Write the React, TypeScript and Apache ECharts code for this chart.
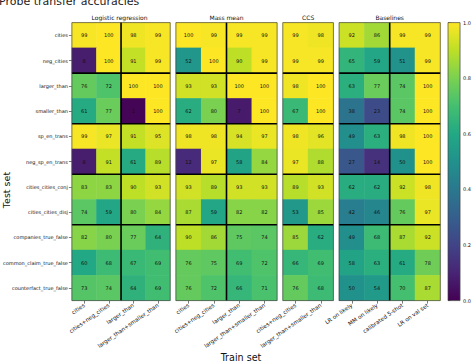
import React, { useEffect, useRef } from "react";
import * as echarts from "echarts";

const testSets = [
  "cities",
  "neg_cities",
  "larger_than",
  "smaller_than",
  "sp_en_trans",
  "neg_sp_en_trans",
  "cities_cities_conj",
  "cities_cities_disj",
  "companies_true_false",
  "common_claim_true_false",
  "counterfact_true_false",
];

const panelTitles = ["Logistic regression", "Mass mean", "CCS", "Baselines"];

const lrTrain = ["cities", "cities+neg_cities", "larger_than", "larger_than+smaller_than"];
const mmTrain = ["cities", "cities+neg_cities", "larger_than", "larger_than+smaller_than"];
const ccsTrain = ["cities+neg_cities", "larger_than+smaller_than"];
const baseTrain = ["LR on likely", "MM on likely", "calibrated 5-shot", "LR on val set"];

const lrValues = [
  [99, 100, 98, 99],
  [8, 100, 91, 99],
  [76, 72, 100, 100],
  [61, 77, 1, 100],
  [99, 97, 91, 95],
  [8, 91, 61, 89],
  [83, 83, 90, 93],
  [74, 59, 80, 84],
  [82, 80, 77, 64],
  [60, 68, 67, 69],
  [73, 74, 64, 69],
];

const mmValues = [
  [100, 99, 99, 99],
  [52, 100, 90, 99],
  [93, 93, 100, 100],
  [62, 80, 7, 100],
  [98, 98, 94, 97],
  [12, 97, 58, 84],
  [93, 89, 93, 93],
  [87, 59, 82, 82],
  [90, 86, 75, 74],
  [76, 75, 69, 72],
  [76, 72, 66, 71],
];

const ccsValues = [
  [99, 98],
  [99, 99],
  [98, 100],
  [67, 100],
  [98, 96],
  [97, 88],
  [89, 93],
  [53, 85],
  [85, 62],
  [66, 69],
  [76, 68],
];

const baseValues = [
  [92, 86, 99, 99],
  [65, 59, 51, 99],
  [63, 77, 74, 100],
  [38, 23, 74, 100],
  [49, 63, 98, 100],
  [27, 14, 50, 100],
  [62, 62, 92, 98],
  [42, 46, 76, 97],
  [49, 68, 87, 92],
  [58, 63, 61, 78],
  [50, 54, 70, 87],
];

const colorbarTicks = [0, 0.2, 0.4, 0.6, 0.8, 1.0];

const viridis = [
  "#440154",
  "#482475",
  "#414487",
  "#355f8d",
  "#2a788e",
  "#21918c",
  "#22a884",
  "#44bf70",
  "#7ad151",
  "#bddf26",
  "#fde725",
];

const FONT = "DejaVu Sans";

export default function App() {
  const ref = useRef<HTMLDivElement>(null);

  useEffect(() => {
    if (!ref.current) return;
    const chart = echarts.init(ref.current, null, { renderer: "svg" });

    const panels = [
      { title: panelTitles[0], train: lrTrain, values: lrValues, vsep: [2] },
      { title: panelTitles[1], train: mmTrain, values: mmValues, vsep: [2] },
      { title: panelTitles[2], train: ccsTrain, values: ccsValues, vsep: [] as number[] },
      { title: panelTitles[3], train: baseTrain, values: baseValues, vsep: [2] },
    ];
    const hsep = [2, 4, 6, 8];

    const top = 22.6;
    const cellH = 278 / testSets.length;
    const cellW = 25.3;
    const lefts = [69, 175.9, 282.8, 339.1];

    const grids: any[] = panels.map((p, i) => ({
      left: lefts[i],
      top,
      width: cellW * p.train.length,
      height: cellH * testSets.length,
      show: false,
    }));
    grids.push({ left: 448, top, width: 14.7, height: cellH * testSets.length, show: false });

    const xAxes: any[] = panels.map((p, i) => ({
      type: "category",
      gridIndex: i,
      data: p.train,
      position: "bottom",
      axisLine: { show: false },
      axisTick: {
        show: true,
        alignWithLabel: true,
        interval: 0,
        length: 3,
        lineStyle: { color: "#222", width: 0.6 },
      },
      axisLabel: {
        rotate: 35,
        fontSize: 5.6,
        interval: 0,
        margin: 4,
        color: "#111",
        fontFamily: FONT,
      },
      splitLine: { show: false },
    }));
    xAxes.push({ type: "value", gridIndex: 4, min: 0, max: 1, show: false });

    const yAxes: any[] = panels.map((p, i) => ({
      type: "category",
      gridIndex: i,
      data: testSets,
      inverse: true,
      axisLine: { show: false },
      axisTick: {
        show: i === 0,
        alignWithLabel: true,
        interval: 0,
        length: 3,
        lineStyle: { color: "#222", width: 0.6 },
      },
      axisLabel: {
        show: i === 0,
        fontSize: 5,
        interval: 0,
        margin: 4,
        color: "#111",
        fontFamily: FONT,
      },
      splitLine: { show: false },
    }));
    yAxes.push({
      type: "value",
      gridIndex: 4,
      min: colorbarTicks[0],
      max: colorbarTicks[colorbarTicks.length - 1],
      interval: colorbarTicks[1] - colorbarTicks[0],
      position: "right",
      axisLine: { show: false },
      axisTick: { show: true, length: 2.5, lineStyle: { color: "#222", width: 0.6 } },
      axisLabel: {
        formatter: (v: number) => v.toFixed(1),
        fontSize: 5,
        margin: 3,
        color: "#111",
        fontFamily: FONT,
      },
      splitLine: { show: false },
    });

    const heatSeries: any[] = panels.map((p, i) => {
      const data: number[][] = [];
      p.values.forEach((row, r) => row.forEach((v, c) => data.push([c, r, v])));
      return {
        type: "heatmap",
        xAxisIndex: i,
        yAxisIndex: i,
        data,
        label: {
          show: true,
          formatter: (pp: any) => String(pp.value[2]),
          fontSize: 5,
          color: "#111",
          fontFamily: FONT,
        },
        itemStyle: { borderWidth: 0 },
        emphasis: { disabled: true },
      };
    });

    const sepSeries: any[] = panels.map((p, i) => ({
      type: "custom",
      xAxisIndex: i,
      yAxisIndex: i,
      data: [[0, 0]],
      z: 10,
      silent: true,
      renderItem: (_params: any, api: any) => {
        const c0 = api.coord([0, 0]);
        const sz = api.size([1, 1]);
        const w = sz[0];
        const h = sz[1];
        const x0 = c0[0] - w / 2;
        const y0 = c0[1] - h / 2;
        const W = w * p.train.length;
        const H = h * testSets.length;
        const children: any[] = [];
        p.vsep.forEach((vc) => {
          children.push({
            type: "line",
            shape: { x1: x0 + w * vc, y1: y0, x2: x0 + w * vc, y2: y0 + H },
            style: { stroke: "#000", lineWidth: 1.6 },
          });
        });
        hsep.forEach((hr) => {
          children.push({
            type: "line",
            shape: { x1: x0, y1: y0 + h * hr, x2: x0 + W, y2: y0 + h * hr },
            style: { stroke: "#000", lineWidth: 1.6 },
          });
        });
        children.push({
          type: "rect",
          shape: { x: x0, y: y0, width: W, height: H },
          style: { fill: "none", stroke: "#444", lineWidth: 0.7 },
        });
        return { type: "group", children };
      },
    }));

    const colorbarSeries = {
      type: "custom",
      xAxisIndex: 4,
      yAxisIndex: 4,
      data: [[0, 0]],
      silent: true,
      renderItem: (_params: any, api: any) => {
        const tl = api.coord([0, 1]);
        const br = api.coord([1, 0]);
        const grad = new echarts.graphic.LinearGradient(
          0,
          1,
          0,
          0,
          viridis.map((c, k) => ({ offset: k / (viridis.length - 1), color: c }))
        );
        return {
          type: "group",
          children: [
            {
              type: "rect",
              shape: { x: tl[0], y: tl[1], width: br[0] - tl[0], height: br[1] - tl[1] },
              style: { fill: grad, stroke: "#444", lineWidth: 0.7 },
            },
          ],
        };
      },
    };

    const graphics: any[] = [
      {
        type: "text",
        x: -1,
        y: 1,
        style: {
          text: "Probe transfer accuracies",
          fontSize: 11,
          fontFamily: FONT,
          fill: "#222",
          align: "left",
          verticalAlign: "middle",
        },
      },
      {
        type: "text",
        x: 6.5,
        y: 190,
        rotation: Math.PI / 2,
        style: {
          text: "Test set",
          fontSize: 9.5,
          fontFamily: FONT,
          fill: "#111",
          align: "center",
          verticalAlign: "middle",
        },
      },
      {
        type: "text",
        x: 241,
        y: 357.5,
        style: {
          text: "Train set",
          fontSize: 9.6,
          fontFamily: FONT,
          fill: "#111",
          align: "center",
          verticalAlign: "middle",
        },
      },
    ];
    panels.forEach((p, i) => {
      graphics.push({
        type: "text",
        x: lefts[i] + (cellW * p.train.length) / 2,
        y: 17.5,
        style: {
          text: p.title,
          fontSize: 6,
          fontFamily: FONT,
          fill: "#111",
          align: "center",
          verticalAlign: "middle",
        },
      });
    });

    chart.setOption({
      animation: false,
      backgroundColor: "#ffffff",
      textStyle: { fontFamily: FONT },
      grid: grids,
      xAxis: xAxes,
      yAxis: yAxes,
      visualMap: {
        type: "continuous",
        show: false,
        min: 0,
        max: 100,
        seriesIndex: [0, 1, 2, 3],
        inRange: { color: viridis },
      },
      series: [...heatSeries, ...sepSeries, colorbarSeries],
      graphic: graphics,
    });

    return () => chart.dispose();
  }, []);

  return (
    <div
      ref={ref}
      style={{ position: "fixed", left: 0, top: 0, width: 474, height: 364 }}
    />
  );
}
